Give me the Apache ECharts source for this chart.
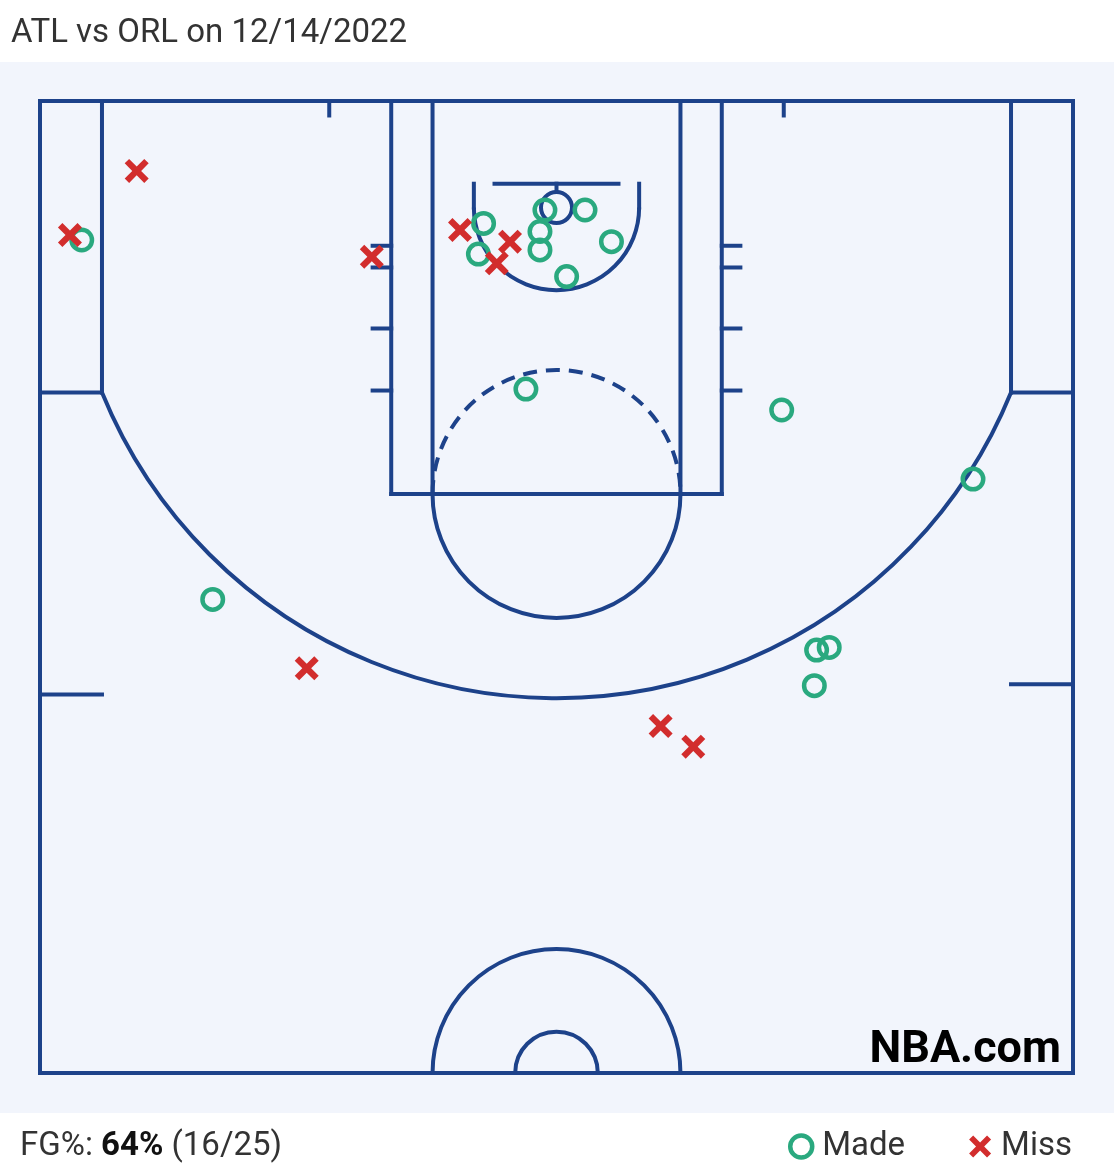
<!DOCTYPE html>
<html>
<head>
<meta charset="utf-8">
<script src="https://cdn.jsdelivr.net/npm/echarts@6/dist/echarts.min.js"></script>
<style>
html,body{margin:0;padding:0;background:#ffffff;}
#chart{width:1114px;height:1176px;}
</style>
</head>
<body>
<div id="chart"></div>
<script>
// ---- Data (feet: x from court centre, y from baseline) ----
const chartTitle = 'ATL vs ORL on 12/14/2022';
const seriesNames = ['Made', 'Miss'];

const madeShots = [
  [-22.98, 6.72], [-3.53, 5.92], [-3.78, 7.40], [-0.80, 6.31],
  [-0.80, 7.20], [-0.56, 5.27], [1.38, 5.27], [2.66, 6.80],
  [0.49, 8.49], [-1.48, 13.93], [10.90, 14.94], [20.16, 18.28],
  [-16.64, 24.10], [12.59, 26.55], [13.20, 26.42], [12.48, 28.27]
];

const missedShots = [
  [-20.32, 3.38], [-23.55, 6.48], [-8.94, 7.53], [-4.67, 6.24],
  [-2.25, 6.80], [-2.89, 7.85], [-12.09, 27.43], [5.04, 30.22],
  [6.62, 31.22]
];

// court geometry (feet): straight segments [x1, y1, x2, y2]
const courtLines = [
  [-25, 0, 25, 0], [-25, 0, -25, 47], [25, 0, 25, 47], [-25, 47, 25, 47],
  [-22, 0, -22, 14.1], [22, 0, 22, 14.1],
  [-25, 14.1, -22, 14.1], [22, 14.1, 25, 14.1],
  [-8, 0, -8, 19], [8, 0, 8, 19], [-8, 19, 8, 19],
  [-6, 0, -6, 19], [6, 0, 6, 19],
  [-3, 4, 3, 4], [0, 4, 0, 4.4],
  [-4, 4, -4, 5.15], [4, 4, 4, 5.15],
  [-8.9, 7, -8, 7], [-8.9, 8.05, -8, 8.05], [-8.9, 11, -8, 11], [-8.9, 14, -8, 14],
  [8, 7, 8.9, 7], [8, 8.05, 8.9, 8.05], [8, 11, 8.9, 11], [8, 14, 8.9, 14],
  [-11, 0, -11, 0.7], [11, 0, 11, 0.7],
  [-25, 28.7, -22, 28.7], [22, 28.2, 25, 28.2]
];

// arcs [cx, cy, radius, startDeg, endDeg, dashed]
const courtArcs = [
  [0, 5.15, 0.75, 0, 360, 0],
  [0, 5.15, 4, 0, 180, 0],
  [0, 5.15, 23.75, 22.14, 157.86, 0],
  [0, 19, 6, 0, 180, 0],
  [0, 19, 6, 180, 360, 1],
  [0, 47, 6, 180, 360, 0],
  [0, 47, 2, 180, 360, 0]
];

// ---- Styles ----
const LINE_COLOR = '#1d428a';
const LINE_W = 4;
const MADE_COLOR = '#2aa97f';
const MISS_COLOR = '#d22d2d';
const TEXT_COLOR = '#333333';
const FONT = 'Roboto, "Noto Sans", sans-serif';
const X_PATH = 'path://M0,3.7 L3.7,0 L10,6.3 L16.3,0 L20,3.7 L13.7,10 L20,16.3 L16.3,20 L10,13.7 L3.7,20 L0,16.3 L6.3,10 Z';

const attempts = madeShots.length + missedShots.length;
const fgPct = Math.round(madeShots.length / attempts * 100);

const madeStyle = {color: 'rgba(0,0,0,0)', borderColor: MADE_COLOR, borderWidth: 4.5, opacity: 1};
const missStyle = {color: MISS_COLOR, borderWidth: 0, opacity: 1};

const chart = echarts.init(document.getElementById('chart'), null, {renderer: 'canvas'});

chart.setOption({
  animation: false,
  backgroundColor: '#ffffff',
  graphic: {
    elements: [{
      type: 'rect', z: -100, silent: true,
      shape: {x: 0, y: 62, width: 1114, height: 1051},
      style: {fill: '#f2f5fc'}
    }]
  },
  title: [
    {
      text: chartTitle, left: 11, top: 17, padding: 0,
      textStyle: {fontSize: 33, fontWeight: 'normal', color: TEXT_COLOR, fontFamily: FONT}
    },
    {
      text: 'FG%: {b|' + fgPct + '%} (' + madeShots.length + '/' + attempts + ')',
      left: 20, top: 1130, padding: 0,
      textStyle: {
        fontSize: 33, fontWeight: 'normal', color: TEXT_COLOR, fontFamily: FONT,
        rich: {b: {fontSize: 33, fontWeight: 'bold', color: '#111', fontFamily: FONT}}
      }
    },
    {
      text: 'NBA.com', right: 53, top: 1028, padding: 0,
      textStyle: {fontSize: 45, fontWeight: 'bold', color: '#000', fontFamily: FONT}
    }
  ],
  legend: {
    data: [
      {name: seriesNames[0], icon: 'circle', itemStyle: madeStyle},
      {name: seriesNames[1], icon: X_PATH, itemStyle: missStyle}
    ],
    right: 42, top: 1130, padding: 0,
    itemGap: 64, itemWidth: 22, itemHeight: 22,
    textStyle: {fontSize: 33, color: TEXT_COLOR, fontFamily: FONT, padding: [0, 0, 0, 5]},
    selectedMode: false
  },
  grid: {left: 40, right: 41, top: 101, bottom: 103},
  xAxis: {type: 'value', min: -25, max: 25, show: false},
  yAxis: {type: 'value', min: 0, max: 47, inverse: true, show: false},
  series: [
    {
      type: 'custom', name: 'courtLines', z: 1, silent: true,
      data: courtLines,
      encode: {x: [0, 2], y: [1, 3]},
      renderItem: function (params, api) {
        const p1 = api.coord([api.value(0), api.value(1)]);
        const p2 = api.coord([api.value(2), api.value(3)]);
        return {
          type: 'line',
          shape: {x1: p1[0], y1: p1[1], x2: p2[0], y2: p2[1]},
          style: {stroke: LINE_COLOR, lineWidth: LINE_W, lineCap: 'square'}
        };
      }
    },
    {
      type: 'custom', name: 'courtArcs', z: 1, silent: true,
      data: courtArcs,
      encode: {x: 0, y: 1},
      renderItem: function (params, api) {
        const c = api.coord([api.value(0), api.value(1)]);
        const r = api.size([api.value(2), 0])[0];
        const dashed = api.value(5) === 1;
        return {
          type: 'arc',
          shape: {
            cx: c[0], cy: c[1], r: r,
            startAngle: api.value(3) * Math.PI / 180,
            endAngle: api.value(4) * Math.PI / 180,
            clockwise: true
          },
          style: {stroke: LINE_COLOR, lineWidth: LINE_W, fill: null, lineDash: dashed ? [14, 9] : null}
        };
      }
    },
    {
      type: 'scatter', name: 'Made', z: 3,
      data: madeShots,
      symbol: 'circle', symbolSize: 20.5,
      itemStyle: madeStyle
    },
    {
      type: 'scatter', name: 'Miss', z: 4,
      data: missedShots,
      symbol: X_PATH, symbolSize: 24,
      itemStyle: missStyle
    }
  ]
});
</script>
</body>
</html>
